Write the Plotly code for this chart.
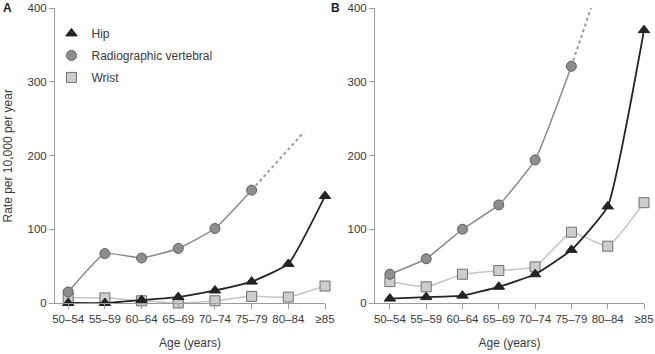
import plotly.graph_objects as go

ages = ["50–54", "55–59", "60–64", "65–69", "70–74", "75–79", "80–84", "≥85"]

# Panel A
hip_A = [0, 0, 4, 8, 17, 29, 53, 145]
vert_A = [15, 67, 61, 74, 101, 153, None, None]
wrist_A = [7, 7, 3, 0, 3, 9, 8, 23]
vert_ext_end_A = (6.43, 232)

# Panel B
hip_B = [6, 8, 10, 22, 39, 72, 131, 370]
vert_B = [39, 60, 100, 133, 194, 321, None, None]
wrist_B = [29, 22, 39, 44, 49, 96, 77, 136]
vert_ext_end_B = (5.54, 400)

xpos = list(range(len(ages)))

HIP_C = "#232323"
VERT_FILL = "#8e8e8e"
VERT_LINE = "#8a8a8a"
VERT_EDGE = "#5e5e5e"
WR_FILL = "#cdcdcd"
WR_LINE = "#c4c4c4"
WR_EDGE = "#6f6f6f"
AX_C = "#9a9a9a"
TXT_C = "#3a3a3a"
FONT = "Liberation Sans, Arial, sans-serif"

fig = go.Figure()

def add_panel(xa, ya, hip, vert, wrist, ext_end):
    nv = [v for v in vert if v is not None]
    last_i = len(nv) - 1
    fig.add_trace(go.Scatter(x=[xpos[last_i], ext_end[0]], y=[nv[last_i], ext_end[1]],
                             mode="lines", line=dict(color="#9a9a9a", width=2, dash="dot"),
                             showlegend=False, hoverinfo="skip", xaxis=xa, yaxis=ya,
                             cliponaxis=False))
    fig.add_trace(go.Scatter(x=xpos, y=wrist, mode="lines+markers",
                             line=dict(color=WR_LINE, width=1.5, shape="spline", smoothing=0.4),
                             marker=dict(symbol="square", size=10, color=WR_FILL,
                                         line=dict(color=WR_EDGE, width=1)),
                             showlegend=False, xaxis=xa, yaxis=ya, cliponaxis=False))
    fig.add_trace(go.Scatter(x=xpos[:len(nv)], y=nv, mode="lines+markers",
                             line=dict(color=VERT_LINE, width=1.5, shape="spline", smoothing=0.4),
                             marker=dict(symbol="circle", size=10, color=VERT_FILL,
                                         line=dict(color=VERT_EDGE, width=1)),
                             showlegend=False, xaxis=xa, yaxis=ya, cliponaxis=False))
    fig.add_trace(go.Scatter(x=xpos, y=hip, mode="lines+markers",
                             line=dict(color=HIP_C, width=1.8, shape="spline", smoothing=0.4),
                             marker=dict(symbol="triangle-up", size=10, color=HIP_C,
                                         line=dict(color=HIP_C, width=1)),
                             showlegend=False, xaxis=xa, yaxis=ya, cliponaxis=False))

add_panel("x", "y", hip_A, vert_A, wrist_A, vert_ext_end_A)
add_panel("x2", "y2", hip_B, vert_B, wrist_B, vert_ext_end_B)

for name, sym, fill, edge, grp in [("Hip", "triangle-up", HIP_C, HIP_C, "g1"),
                                   ("Radiographic vertebral", "circle", VERT_FILL, VERT_EDGE, "g2"),
                                   ("Wrist", "square", WR_FILL, WR_EDGE, "g3")]:
    fig.add_trace(go.Scatter(x=[None], y=[None], mode="markers", name=name, legendgroup=grp,
                             marker=dict(symbol=sym, size=10, color=fill, line=dict(color=edge, width=1)),
                             xaxis="x", yaxis="y"))

axis_common = dict(showgrid=False, zeroline=False, showline=True, linecolor=AX_C, linewidth=1,
                   ticks="outside", ticklen=5, tickcolor=AX_C, tickwidth=1, automargin=False,
                   tickfont=dict(family=FONT, size=11.5, color=TXT_C))

fig.update_layout(
    width=655, height=354,
    margin=dict(l=55, r=11, t=8, b=51),
    paper_bgcolor="white", plot_bgcolor="white",
    font=dict(family=FONT, color=TXT_C, size=12),
    xaxis=dict(domain=[0, 0.4584], range=[-0.36, 7], tickvals=xpos, ticktext=ages,
               title=dict(text="Age (years)", font=dict(size=12, color=TXT_C), standoff=14), **axis_common),
    yaxis=dict(range=[0, 400], tickvals=[0, 100, 200, 300, 400], **axis_common),
    xaxis2=dict(domain=[0.5433, 1.0], range=[-0.41, 7], tickvals=xpos, ticktext=ages, anchor="y2",
                title=dict(text="Age (years)", font=dict(size=12, color=TXT_C), standoff=14), **axis_common),
    yaxis2=dict(range=[0, 400], tickvals=[0, 100, 200, 300, 400], anchor="x2", **axis_common),
    legend=dict(x=-0.006, y=0.963, xanchor="left", yanchor="top", bgcolor="rgba(0,0,0,0)",
                font=dict(family=FONT, size=12, color=TXT_C), traceorder="grouped",
                tracegroupgap=3, itemwidth=30),
    annotations=[
        dict(text="Rate per 10,000 per year", xref="paper", yref="paper", x=-0.0798, y=0.5,
             xanchor="center", yanchor="middle", textangle=-90, showarrow=False,
             font=dict(family=FONT, size=12, color=TXT_C)),
        dict(text="<b>A</b>", xref="paper", yref="paper", x=-0.08, y=1.0, xanchor="center",
             yanchor="middle", showarrow=False, font=dict(family=FONT, size=12, color="#222")),
        dict(text="<b>B</b>", xref="paper", yref="paper", x=0.477, y=1.0, xanchor="center",
             yanchor="middle", showarrow=False, font=dict(family=FONT, size=12, color="#222")),
    ],
)

fig.write_html("out.html", config={"displayModeBar": False},
               post_script="document.body.style.margin='0';document.body.style.overflow='hidden';")
